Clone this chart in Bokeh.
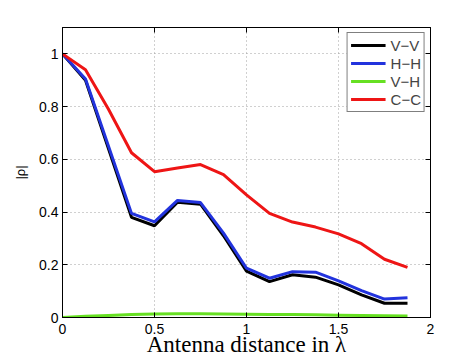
from bokeh.plotting import figure
from bokeh.models import LinearAxis, FixedTicker, Range1d, Legend, LegendItem
from bokeh.embed import file_html
from bokeh.resources import INLINE

# Data
distance = [0, 0.125, 0.25, 0.375, 0.5, 0.625, 0.75, 0.875, 1.0, 1.125, 1.25, 1.375, 1.5, 1.625, 1.75, 1.875]
rho_vv = [1.0, 0.90, 0.64, 0.38, 0.348, 0.437, 0.430, 0.31, 0.176, 0.136, 0.162, 0.153, 0.124, 0.086, 0.054, 0.054]
rho_hh = [1.0, 0.905, 0.65, 0.395, 0.363, 0.444, 0.436, 0.32, 0.187, 0.149, 0.174, 0.172, 0.139, 0.102, 0.070, 0.075]
rho_vh = [0.0, 0.005, 0.008, 0.011, 0.013, 0.014, 0.014, 0.013, 0.012, 0.011, 0.011, 0.010, 0.009, 0.008, 0.007, 0.006]
rho_cc = [1.0, 0.94, 0.79, 0.625, 0.553, 0.567, 0.580, 0.542, 0.465, 0.395, 0.362, 0.343, 0.317, 0.280, 0.221, 0.190]
labels = ["V\u2212V", "H\u2212H", "V\u2212H", "C\u2212C"]
x_ticks = [0, 0.5, 1, 1.5, 2]
y_ticks = [0, 0.2, 0.4, 0.6, 0.8, 1]

colors = ["#000000", "#2233dd", "#66e022", "#ee1515"]

p = figure(width=466, height=359, output_backend="svg", toolbar_location=None,
           x_range=Range1d(0, 2), y_range=Range1d(0, 1.1),
           min_border_left=62, min_border_right=36, min_border_top=27, min_border_bottom=0)
p.outline_line_color = "black"
p.outline_line_width = 1
p.background_fill_color = "white"
p.border_fill_color = "white"

tick_font = "Liberation Sans"
p.xaxis.ticker = FixedTicker(ticks=x_ticks)
p.yaxis.ticker = FixedTicker(ticks=y_ticks)
p.xaxis.major_label_overrides = {0: "0", 0.5: "0.5", 1: "1", 1.5: "1.5", 2: "2"}
p.yaxis.major_label_overrides = {0: "0", 0.2: "0.2", 0.4: "0.4", 0.6: "0.6", 0.8: "0.8", 1: "1"}
for ax in [p.xaxis[0], p.yaxis[0]]:
    ax.major_tick_in = 5
    ax.major_tick_out = 0
    ax.minor_tick_in = 0
    ax.minor_tick_out = 0
    ax.axis_line_color = "black"
    ax.major_tick_line_color = "black"
    ax.major_label_text_font = tick_font
    ax.major_label_text_font_size = "14px"
    ax.major_label_text_color = "black"

p.xaxis.major_label_standoff = 6
p.yaxis.major_label_standoff = 4
p.xaxis.axis_label = "Antenna distance in \u03bb"
p.xaxis.axis_label_text_font = "Liberation Serif"
p.xaxis.axis_label_text_font_size = "23px"
p.xaxis.axis_label_text_font_style = "normal"
p.xaxis.axis_label_text_color = "black"
p.xaxis.axis_label_text_line_height = 0.9
p.xaxis.axis_label_standoff = -5
p.yaxis.axis_label = "|\u03c1|"
p.yaxis.axis_label_text_font = tick_font
p.yaxis.axis_label_text_font_size = "13px"
p.yaxis.axis_label_text_font_style = "normal"
p.yaxis.axis_label_text_color = "black"
p.yaxis.axis_label_standoff = 8

# Box axes (top / right) with inward ticks, no labels
top = LinearAxis(ticker=FixedTicker(ticks=x_ticks),
                 major_label_overrides={t: "" for t in x_ticks},
                 major_tick_in=5, major_tick_out=0, minor_tick_in=0, minor_tick_out=0,
                 major_label_standoff=0)
right = LinearAxis(ticker=FixedTicker(ticks=y_ticks),
                   major_label_overrides={t: "" for t in y_ticks},
                   major_tick_in=5, major_tick_out=0, minor_tick_in=0, minor_tick_out=0,
                   major_label_standoff=0)
p.add_layout(top, "above")
p.add_layout(right, "right")

p.xgrid.ticker = FixedTicker(ticks=x_ticks)
p.ygrid.ticker = FixedTicker(ticks=y_ticks)
for g in [p.xgrid[0], p.ygrid[0]]:
    g.grid_line_color = "#a0a0a0"
    g.grid_line_dash = "1 3"
    g.grid_line_width = 1

renderers = []
for ys, c in zip([rho_vv, rho_hh, rho_vh, rho_cc], colors):
    r = p.line(distance, ys, line_color=c, line_width=3)
    renderers.append(r)

legend = Legend(items=[LegendItem(label=l, renderers=[r]) for l, r in zip(labels, renderers)],
                location="top_right")
legend.border_line_color = "black"
legend.border_line_width = 1
legend.background_fill_color = "white"
legend.background_fill_alpha = 1
legend.label_text_font = tick_font
legend.label_text_font_size = "15px"
legend.glyph_width = 35
legend.glyph_height = 18
legend.label_height = 18
legend.label_standoff = 5
legend.spacing = 0
legend.padding = 3
legend.margin = 5
p.add_layout(legend)

open("out.html", "w").write(file_html(p, INLINE))
